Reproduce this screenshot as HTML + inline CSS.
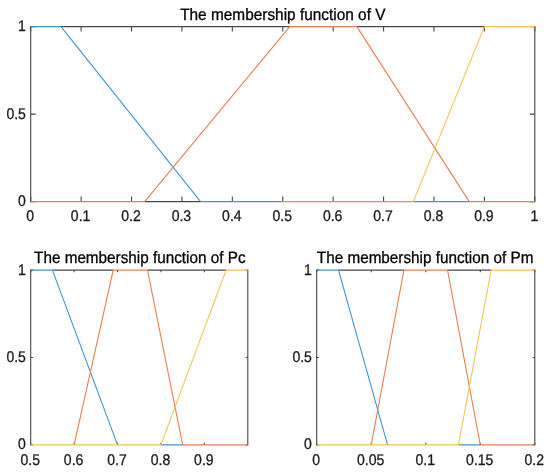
<!DOCTYPE html>
<html><head><meta charset="utf-8"><title>Membership functions</title>
<style>
html,body{margin:0;padding:0;background:#fff;}
body{width:550px;height:473px;overflow:hidden;}
svg{display:block;filter:blur(0.35px);}
text{font-family:"Liberation Sans",Arial,Helvetica,sans-serif;fill:#1a1a1a;stroke:#1a1a1a;stroke-width:0.3px;text-rendering:geometricPrecision;}
.tk{font-size:15.4px;}
.tt{font-size:16.5px;fill:#000;stroke:#000;}
</style></head><body>
<svg width="550" height="473" viewBox="0 0 550 473">
<rect width="550" height="473" fill="#fff"/>
<path d="M30.7 26.05V202.15M534.8 26.05V202.15M144.63 201.60H200.58M60.95 26.60H289.81M356.85 26.60H484.39" stroke="#484848" stroke-width="1.1" fill="none"/>
<path d="M30.70 201.6v-5M30.70 26.6v5M81.11 201.6v-5M81.11 26.6v5M131.52 201.6v-5M131.52 26.6v5M181.93 201.6v-5M181.93 26.6v5M232.34 201.6v-5M232.34 26.6v5M282.75 201.6v-5M282.75 26.6v5M333.16 201.6v-5M333.16 26.6v5M383.57 201.6v-5M383.57 26.6v5M433.98 201.6v-5M433.98 26.6v5M484.39 201.6v-5M484.39 26.6v5M534.80 201.6v-5M534.80 26.6v5M30.7 201.60h5M534.8 201.60h-5M30.7 114.10h5M534.8 114.10h-5M30.7 26.60h5M534.8 26.60h-5" stroke="#484848" stroke-width="1.1" fill="none"/>
<path d="M30.70 26.60L60.95 26.60L200.58 201.60L282.75 201.60M413.31 201.60L469.27 201.60" fill="none" stroke="#3f95d2" stroke-width="1.1" stroke-linejoin="round"/>
<path d="M30.70 201.60L144.63 201.60L289.81 26.60L356.85 26.60L469.27 201.60L534.80 201.60" fill="none" stroke="#e58052" stroke-width="1.1" stroke-linejoin="round"/>
<path d="M282.75 201.60L413.31 201.60" fill="none" stroke="#bfa548" stroke-width="1.1" stroke-linejoin="round"/>
<path d="M413.31 201.60L484.39 26.60L534.80 26.60" fill="none" stroke="#f2c452" stroke-width="1.1" stroke-linejoin="round"/>
<text class="tk" transform="translate(30.20 221.4) scale(0.912 1)" text-anchor="middle">0</text>
<text class="tk" transform="translate(80.61 221.4) scale(0.912 1)" text-anchor="middle">0.1</text>
<text class="tk" transform="translate(131.02 221.4) scale(0.912 1)" text-anchor="middle">0.2</text>
<text class="tk" transform="translate(181.43 221.4) scale(0.912 1)" text-anchor="middle">0.3</text>
<text class="tk" transform="translate(231.84 221.4) scale(0.912 1)" text-anchor="middle">0.4</text>
<text class="tk" transform="translate(282.25 221.4) scale(0.912 1)" text-anchor="middle">0.5</text>
<text class="tk" transform="translate(332.66 221.4) scale(0.912 1)" text-anchor="middle">0.6</text>
<text class="tk" transform="translate(383.07 221.4) scale(0.912 1)" text-anchor="middle">0.7</text>
<text class="tk" transform="translate(433.48 221.4) scale(0.912 1)" text-anchor="middle">0.8</text>
<text class="tk" transform="translate(483.89 221.4) scale(0.912 1)" text-anchor="middle">0.9</text>
<text class="tk" transform="translate(534.30 221.4) scale(0.912 1)" text-anchor="middle">1</text>
<text class="tk" transform="translate(25.9 206.00) scale(0.912 1)" text-anchor="end">0</text>
<text class="tk" transform="translate(25.9 118.50) scale(0.912 1)" text-anchor="end">0.5</text>
<text class="tk" transform="translate(25.9 31.00) scale(0.912 1)" text-anchor="end">1</text>
<text class="tt" transform="translate(282.8 19.8) scale(0.933 1)" text-anchor="middle">The membership function of V</text>
<path d="M30.7 269.55V445.45M247.8 269.55V445.45M52.41 270.10H113.20M147.50 270.10H226.09" stroke="#484848" stroke-width="1.1" fill="none"/>
<path d="M30.70 444.9v-2.2M30.70 270.1v2.2M74.12 444.9v-2.2M74.12 270.1v2.2M117.54 444.9v-2.2M117.54 270.1v2.2M160.96 444.9v-2.2M160.96 270.1v2.2M204.38 444.9v-2.2M204.38 270.1v2.2M30.7 444.90h2.2M247.8 444.90h-2.2M30.7 357.50h2.2M247.8 357.50h-2.2M30.7 270.10h2.2M247.8 270.10h-2.2" stroke="#484848" stroke-width="1.1" fill="none"/>
<path d="M30.70 270.10L52.41 270.10L117.54 444.90M160.96 444.90L182.67 444.90" fill="none" stroke="#3f95d2" stroke-width="1.1" stroke-linejoin="round"/>
<path d="M74.12 444.90L113.20 270.10L147.50 270.10L182.67 444.90L247.80 444.90" fill="none" stroke="#e58052" stroke-width="1.1" stroke-linejoin="round"/>
<path d="M30.70 444.90L160.96 444.90L226.09 270.10L247.80 270.10" fill="none" stroke="#f2c452" stroke-width="1.1" stroke-linejoin="round"/>
<text class="tk" transform="translate(30.20 464.7) scale(0.912 1)" text-anchor="middle">0.5</text>
<text class="tk" transform="translate(73.62 464.7) scale(0.912 1)" text-anchor="middle">0.6</text>
<text class="tk" transform="translate(117.04 464.7) scale(0.912 1)" text-anchor="middle">0.7</text>
<text class="tk" transform="translate(160.46 464.7) scale(0.912 1)" text-anchor="middle">0.8</text>
<text class="tk" transform="translate(203.88 464.7) scale(0.912 1)" text-anchor="middle">0.9</text>
<text class="tk" transform="translate(25.9 449.30) scale(0.912 1)" text-anchor="end">0</text>
<text class="tk" transform="translate(25.9 361.90) scale(0.912 1)" text-anchor="end">0.5</text>
<text class="tk" transform="translate(25.9 274.50) scale(0.912 1)" text-anchor="end">1</text>
<text class="tt" transform="translate(139.8 262.6) scale(0.926 1)" text-anchor="middle">The membership function of Pc</text>
<path d="M316.7 269.55V445.45M534.8 269.55V445.45M338.51 270.10H403.94M447.56 270.10H491.18" stroke="#484848" stroke-width="1.1" fill="none"/>
<path d="M316.70 444.9v-2.2M316.70 270.1v2.2M371.22 444.9v-2.2M371.22 270.1v2.2M425.75 444.9v-2.2M425.75 270.1v2.2M480.27 444.9v-2.2M480.27 270.1v2.2M534.80 444.9v-2.2M534.80 270.1v2.2M316.7 444.90h2.2M534.8 444.90h-2.2M316.7 357.50h2.2M534.8 357.50h-2.2M316.7 270.10h2.2M534.8 270.10h-2.2" stroke="#484848" stroke-width="1.1" fill="none"/>
<path d="M316.70 270.10L338.51 270.10L387.58 444.90M458.46 444.90L480.27 444.90" fill="none" stroke="#3f95d2" stroke-width="1.1" stroke-linejoin="round"/>
<path d="M371.22 444.90L403.94 270.10L447.56 270.10L480.27 444.90L534.80 444.90" fill="none" stroke="#e58052" stroke-width="1.1" stroke-linejoin="round"/>
<path d="M316.70 444.90L458.46 444.90L491.18 270.10L534.80 270.10" fill="none" stroke="#f2c452" stroke-width="1.1" stroke-linejoin="round"/>
<text class="tk" transform="translate(316.20 464.7) scale(0.912 1)" text-anchor="middle">0</text>
<text class="tk" transform="translate(370.72 464.7) scale(0.912 1)" text-anchor="middle">0.05</text>
<text class="tk" transform="translate(425.25 464.7) scale(0.912 1)" text-anchor="middle">0.1</text>
<text class="tk" transform="translate(479.77 464.7) scale(0.912 1)" text-anchor="middle">0.15</text>
<text class="tk" transform="translate(534.30 464.7) scale(0.912 1)" text-anchor="middle">0.2</text>
<text class="tk" transform="translate(311.9 449.30) scale(0.912 1)" text-anchor="end">0</text>
<text class="tk" transform="translate(311.9 361.90) scale(0.912 1)" text-anchor="end">0.5</text>
<text class="tk" transform="translate(311.9 274.50) scale(0.912 1)" text-anchor="end">1</text>
<text class="tt" transform="translate(425.1 262.6) scale(0.926 1)" text-anchor="middle">The membership function of Pm</text>
</svg>
</body></html>
